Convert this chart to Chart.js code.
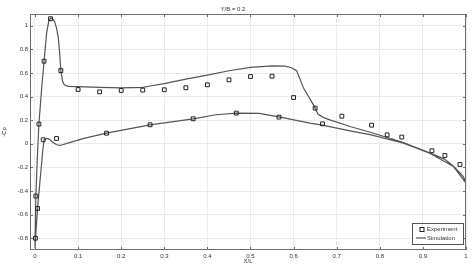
<!DOCTYPE html>
<html>
<head>
<meta charset="utf-8">
<script src="https://cdn.jsdelivr.net/npm/chart.js@4.4.1/dist/chart.umd.min.js"></script>
<style>
  html, body { margin: 0; padding: 0; background: #ffffff; }
  #wrap { width: 474px; height: 266px; }
</style>
</head>
<body>
<div id="wrap"><canvas id="c" width="474" height="266"></canvas></div>
<script>
// ---- Data ----
const chartTitle = "Y/B = 0.2";
const xAxisTitle = "X/L";
const yAxisTitle = "-Cp";
const expLabel = "Experiment";
const simLabel = "Simulation";

const xTicks = [0, 0.1, 0.2, 0.3, 0.4, 0.5, 0.6, 0.7, 0.8, 0.9, 1];
const yTicks = [-0.8, -0.6, -0.4, -0.2, 0, 0.2, 0.4, 0.6, 0.8, 1];

const expX = [0.001, 0.002, 0.006, 0.009, 0.019, 0.021, 0.036, 0.05, 0.06, 0.10, 0.15, 0.166, 0.20, 0.25, 0.267, 0.30, 0.35, 0.367, 0.40, 0.45, 0.467, 0.50, 0.55, 0.566, 0.60, 0.65, 0.667, 0.712, 0.781, 0.817, 0.851, 0.921, 0.951, 0.986];
const expY = [-0.80, -0.443, -0.548, 0.167, 0.034, 0.70, 1.06, 0.045, 0.62, 0.46, 0.44, 0.09, 0.452, 0.455, 0.161, 0.458, 0.475, 0.212, 0.50, 0.542, 0.26, 0.57, 0.573, 0.226, 0.392, 0.302, 0.169, 0.234, 0.158, 0.076, 0.057, -0.059, -0.099, -0.175];

// simulation: upper surface (leading edge -> trailing edge)
const simUpperX = [0.000, 0.002, 0.005, 0.009, 0.015, 0.021, 0.027, 0.032, 0.036, 0.041, 0.046, 0.050, 0.054, 0.057, 0.060, 0.064, 0.068, 0.077, 0.10, 0.15, 0.20, 0.25, 0.267, 0.30, 0.35, 0.40, 0.45, 0.50, 0.55, 0.58, 0.595, 0.607, 0.623, 0.646, 0.657, 0.670, 0.684, 0.731, 0.78, 0.855, 0.917, 0.95, 0.971, 0.994, 1.0];
const simUpperY = [-0.88, -0.44, -0.15, 0.164, 0.45, 0.70, 0.94, 1.04, 1.065, 1.06, 1.03, 0.98, 0.90, 0.78, 0.62, 0.53, 0.50, 0.487, 0.485, 0.478, 0.474, 0.479, 0.49, 0.51, 0.548, 0.582, 0.619, 0.648, 0.661, 0.658, 0.645, 0.62, 0.472, 0.33, 0.25, 0.222, 0.203, 0.147, 0.096, 0.01, -0.079, -0.13, -0.19, -0.277, -0.333];
// simulation: lower surface (leading edge -> trailing edge)
const simLowerX = [0.000, 0.003, 0.006, 0.010, 0.014, 0.018, 0.021, 0.027, 0.033, 0.039, 0.05, 0.058, 0.08, 0.116, 0.166, 0.267, 0.367, 0.42, 0.467, 0.52, 0.566, 0.638, 0.667, 0.731, 0.78, 0.855, 0.917, 0.971, 1.0];
const simLowerY = [-0.88, -0.70, -0.545, -0.38, -0.22, -0.06, 0.034, 0.045, 0.04, 0.02, -0.008, -0.014, 0.01, 0.048, 0.09, 0.161, 0.212, 0.246, 0.26, 0.257, 0.228, 0.175, 0.158, 0.11, 0.076, 0.005, -0.082, -0.193, -0.333];

// ---- Build datasets ----
const expData = expX.map((x, i) => ({ x: x, y: expY[i] }));
const simData = [];
for (let i = simUpperX.length - 1; i >= 0; i--) simData.push({ x: simUpperX[i], y: simUpperY[i] });
for (let i = 1; i < simLowerX.length; i++) simData.push({ x: simLowerX[i], y: simLowerY[i] });

const FONT = { family: "'Liberation Sans', Arial, sans-serif", size: 6, lineHeight: 1 };
const TEXT = "#333333";
const FRAME = "#6e6e6e";
const LINE = "#555555";

const framePlugin = {
  id: 'frame',
  afterDatasetsDraw(chart) {
    const { ctx, chartArea: a, scales } = chart;
    ctx.save();
    ctx.strokeStyle = FRAME;
    ctx.lineWidth = 1;
    ctx.strokeRect(Math.round(a.left) + 0.5, Math.round(a.top) + 0.5, Math.round(a.right - a.left) - 1, Math.round(a.bottom - a.top) - 1);
    const tl = 3;
    ctx.beginPath();
    xTicks.forEach(v => {
      const px = Math.round(scales.x.getPixelForValue(v)) + 0.5;
      ctx.moveTo(px, a.top); ctx.lineTo(px, a.top + tl);
      ctx.moveTo(px, a.bottom); ctx.lineTo(px, a.bottom - tl);
    });
    yTicks.forEach(v => {
      const py = Math.round(scales.y.getPixelForValue(v)) + 0.5;
      ctx.moveTo(a.left, py); ctx.lineTo(a.left + tl, py);
      ctx.moveTo(a.right, py); ctx.lineTo(a.right - tl, py);
    });
    ctx.stroke();

    // legend
    const bx = a.right - 54, by = a.bottom - 27, bw = 51, bh = 21;
    ctx.fillStyle = "#ffffff";
    ctx.fillRect(bx, by, bw, bh);
    ctx.strokeStyle = "#555555";
    ctx.strokeRect(bx + 0.5, by + 0.5, bw, bh);
    const my = by + 6.5;
    ctx.strokeStyle = "#222222";
    ctx.lineWidth = 1;
    ctx.strokeRect(bx + 8, my - 2, 4, 4);
    const ly = by + 15;
    ctx.strokeStyle = LINE;
    ctx.lineWidth = 1.2;
    ctx.beginPath();
    ctx.moveTo(bx + 4, ly); ctx.lineTo(bx + 14, ly);
    ctx.stroke();
    ctx.fillStyle = TEXT;
    ctx.font = "6px 'Liberation Sans', Arial, sans-serif";
    ctx.textBaseline = "middle";
    ctx.textAlign = "left";
    ctx.fillText(expLabel, bx + 15, my);
    ctx.fillText(simLabel, bx + 15, ly);
    ctx.restore();
  }
};

new Chart(document.getElementById('c'), {
  type: 'scatter',
  data: {
    datasets: [
      {
        label: expLabel,
        data: expData,
        showLine: false,
        pointStyle: 'rect',
        pointRadius: 2.7,
        pointBorderWidth: 1,
        pointBorderColor: '#222222',
        pointBackgroundColor: 'rgba(255,255,255,0)',
        order: 0
      },
      {
        label: simLabel,
        data: simData,
        showLine: true,
        pointRadius: 0,
        borderColor: LINE,
        borderWidth: 1.2,
        tension: 0,
        fill: false,
        order: 1
      }
    ]
  },
  options: {
    responsive: false,
    animation: false,
    events: [],
    layout: { padding: { left: 0, right: 8, top: 0, bottom: 0 } },
    plugins: {
      legend: { display: false },
      tooltip: { enabled: false },
      title: {
        display: true,
        text: chartTitle,
        color: TEXT,
        font: { family: FONT.family, size: 6, lineHeight: 1, weight: 'normal' },
        padding: { top: 6, bottom: 2 }
      }
    },
    scales: {
      x: {
        type: 'linear',
        min: -0.0116,
        max: 1,
        afterBuildTicks: s => { s.ticks = xTicks.map(v => ({ value: v })); },
        afterFit: s => { s.height = 16; },
        ticks: { color: TEXT, font: FONT, padding: 3, maxRotation: 0, callback: v => String(v) },
        grid: { color: '#ebebeb', lineWidth: 1, drawTicks: false },
        border: { display: false },
        title: { display: true, text: xAxisTitle, color: TEXT, font: FONT, padding: { top: 0, bottom: 2 } }
      },
      y: {
        type: 'linear',
        min: -0.9,
        max: 1.1,
        afterBuildTicks: s => { s.ticks = yTicks.map(v => ({ value: v })); },
        afterFit: s => { s.width = 30; },
        ticks: { color: TEXT, font: FONT, padding: 2, callback: v => String(v) },
        grid: { color: '#ebebeb', lineWidth: 1, drawTicks: false },
        border: { display: false },
        title: { display: true, text: yAxisTitle, color: TEXT, font: FONT, padding: { top: 1, bottom: 0 } }
      }
    }
  },
  plugins: [framePlugin]
});
</script>
</body>
</html>
